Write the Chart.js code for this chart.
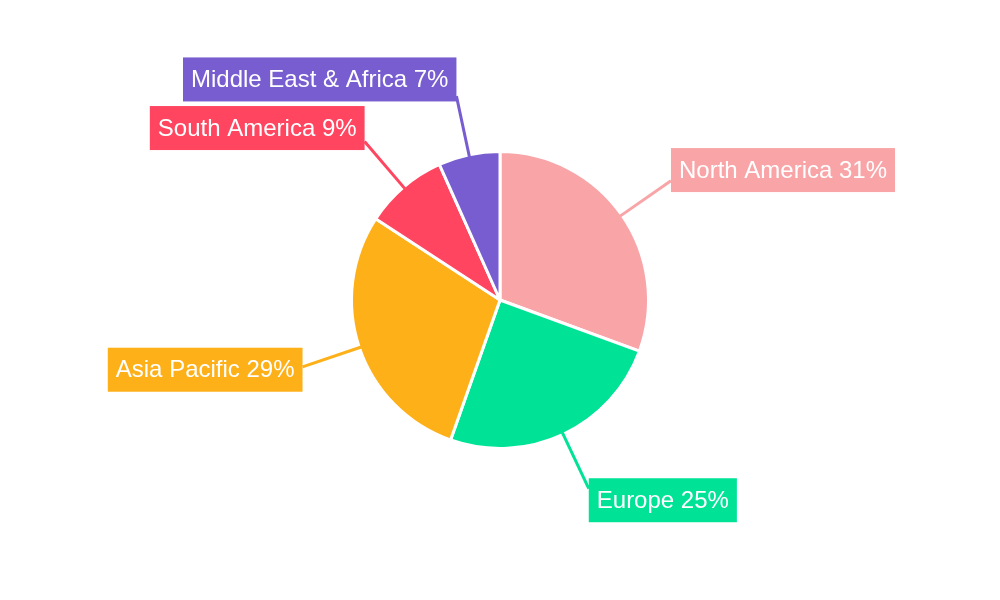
<!DOCTYPE html>
<html>
<head>
<meta charset="utf-8">
<script src="https://cdn.jsdelivr.net/npm/chart.js@4"></script>
<style>
  html, body { margin: 0; background: #fff; }
  #wrap { width: 1000px; height: 600px; }
</style>
</head>
<body>
<div id="wrap"><canvas id="regionChart"></canvas></div>
<script>
const regions = ["North America", "Europe", "Asia Pacific", "South America", "Middle East & Africa"];
const shares = [30.6, 24.8, 28.8, 9.1, 6.7];
const shareLabels = ["31%", "25%", "29%", "9%", "7%"];
const colors = ["#F9A5A8", "#00E396", "#FEB019", "#FF4560", "#775DD0"];

// boxed labels with leader lines
const calloutPlugin = {
  id: "callouts",
  afterDatasetsDraw(chart) {
    const ctx = chart.ctx;
    const arcs = chart.getDatasetMeta(0).data;
    ctx.save();
    ctx.font = "24px 'Liberation Sans', Arial, sans-serif";
    ctx.textBaseline = "middle";
    arcs.forEach((arc, i) => {
      const mid = (arc.startAngle + arc.endAngle) / 2;
      const r = arc.outerRadius;
      const sx = arc.x + Math.cos(mid) * (r - 2);
      const sy = arc.y + Math.sin(mid) * (r - 2);
      const ex = arc.x + Math.cos(mid) * (r + 60);
      const ey = arc.y + Math.sin(mid) * (r + 60);
      ctx.strokeStyle = colors[i];
      ctx.lineWidth = 3;
      ctx.beginPath();
      ctx.moveTo(sx, sy);
      ctx.lineTo(ex, ey);
      ctx.stroke();

      const text = regions[i] + " " + shareLabels[i];
      const w = ctx.measureText(text).width + 16;
      const h = 44;
      const right = Math.cos(mid) >= 0;
      const bx = right ? ex : ex - w;
      // angle measured from top, clockwise
      const fromTop = mid + Math.PI / 2;
      const cy = ey - 15 * Math.cos(fromTop) - 2;
      ctx.fillStyle = colors[i];
      ctx.fillRect(bx, cy - h / 2, w, h);
      ctx.fillStyle = "#fff";
      ctx.fillText(text, bx + 8, cy + 1);
    });
    ctx.restore();
  }
};

new Chart(document.getElementById("regionChart").getContext("2d"), {
  type: "pie",
  data: {
    labels: regions,
    datasets: [{
      data: shares,
      backgroundColor: colors,
      borderColor: "#fff",
      borderWidth: 3
    }]
  },
  options: {
    responsive: true,
    maintainAspectRatio: false,
    animation: false,
    layout: { padding: { top: 150, bottom: 150 } },
    plugins: {
      legend: { display: false },
      tooltip: { enabled: false }
    }
  },
  plugins: [calloutPlugin]
});
</script>
</body>
</html>
